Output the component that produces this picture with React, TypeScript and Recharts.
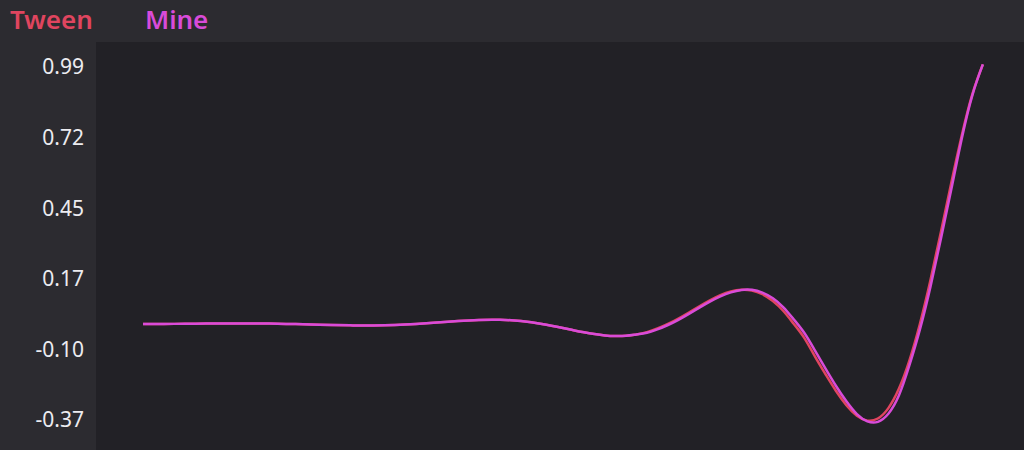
import { CartesianGrid, Line, LineChart, XAxis, YAxis } from "recharts"

const seriesNames = ["Tween", "Mine"]
const seriesColors = ["#e0455f", "#d94bd9"]

// progress (0..1) along the tween
const progress = [
  0, 0.025, 0.05, 0.075, 0.1, 0.125, 0.15, 0.175, 0.2, 0.225, 0.25, 0.275, 0.3, 0.325, 0.35, 0.375, 0.4, 0.425, 0.45, 0.475,
  0.5, 0.5125, 0.525, 0.5375, 0.55, 0.5625, 0.575, 0.5875, 0.6, 0.6125, 0.625, 0.6375, 0.65, 0.6625, 0.675, 0.6875,
  0.7, 0.7125, 0.725, 0.7375, 0.75, 0.7625, 0.775, 0.7875, 0.8, 0.8125, 0.825, 0.8375, 0.85, 0.8625, 0.875, 0.8875,
  0.9, 0.9125, 0.925, 0.9375, 0.95, 0.9625, 0.975, 0.9875, 1,
]

const tween = [
  -0.0005, 0, 0.0007, 0.0014, 0.002, 0.002, 0.0014, 0, -0.002, -0.004, -0.0055, -0.0057, -0.0039, 0, 0.0055, 0.0114, 0.0156, 0.0161, 0.011, 0,
  -0.0156, -0.0241, -0.0322, -0.0391, -0.0442, -0.0465, -0.0455, -0.0405, -0.0313, -0.0176, 0, 0.021, 0.0442, 0.0682, 0.091, 0.1107,
  0.125, 0.1317, 0.1288, 0.1146, 0.0884, 0.0499, 0, -0.0544, -0.125, -0.1928, -0.2575, -0.3131, -0.3536, -0.3724, -0.3641, -0.3242,
  -0.25, -0.1411, 0, 0.1678, 0.3536, 0.5453, 0.7282, 0.8857, 1,
]

const mine = [
  -0.0005, 0, 0.0007, 0.0014, 0.002, 0.002, 0.0014, 0, -0.002, -0.004, -0.0055, -0.0057, -0.0039, 0, 0.0055, 0.0114, 0.0156, 0.0161, 0.011, 0,
  -0.0156, -0.0241, -0.0322, -0.0391, -0.0442, -0.0465, -0.0455, -0.0405, -0.034, -0.021, -0.004, 0.016, 0.039, 0.063, 0.086, 0.106,
  0.1215, 0.131, 0.1315, 0.121, 0.099, 0.064, 0.017, -0.035, -0.102, -0.171, -0.238, -0.298, -0.347, -0.375, -0.377, -0.346,
  -0.276, -0.16, -0.022, 0.142, 0.327, 0.52, 0.716, 0.881, 1,
]

const yTicks = [-0.37, -0.098, 0.174, 0.446, 0.718, 0.99]

const data = progress.map((t, i) => ({ t, tween: tween[i], mine: mine[i] }))

export default function App() {
  return (
    <div
      style={{
        position: "absolute",
        left: 0,
        top: 0,
        width: 1024,
        height: 450,
        background: "#2c2b30",
        fontFamily: "'Noto Sans', sans-serif",
        overflow: "hidden",
      }}
    >
      <div style={{ height: 42, position: "relative" }}>
        {seriesNames.map((name, i) => (
          <span
            key={name}
            style={{
              position: "absolute",
              left: i === 0 ? 10 : 145,
              top: 0,
              fontSize: 26,
              fontWeight: 600,
              lineHeight: "38px",
              color: seriesColors[i],
            }}
          >
            {name}
          </span>
        ))}
      </div>
      <LineChart width={1024} height={408} data={data} margin={{ top: 0, right: 0, bottom: 0, left: 0 }}>
        <CartesianGrid fill="#222126" stroke="transparent" />
        <XAxis dataKey="t" type="number" domain={[-0.056, 1.049]} allowDataOverflow hide />
        <YAxis
          type="number"
          width={96}
          domain={[-0.4856, 1.0863]}
          allowDataOverflow
          ticks={yTicks}
          tickFormatter={(v: number) => v.toFixed(2)}
          tick={{ fill: "#ececf0", fontSize: 21 }}
          tickLine={false}
          axisLine={false}
          tickSize={0}
          tickMargin={12}
        />
        <Line
          dataKey="tween"
          type="natural"
          stroke={seriesColors[0]}
          strokeWidth={2.5}
          dot={false}
          isAnimationActive={false}
        />
        <Line
          dataKey="mine"
          type="natural"
          stroke={seriesColors[1]}
          strokeWidth={2.5}
          dot={false}
          isAnimationActive={false}
        />
      </LineChart>
    </div>
  )
}
